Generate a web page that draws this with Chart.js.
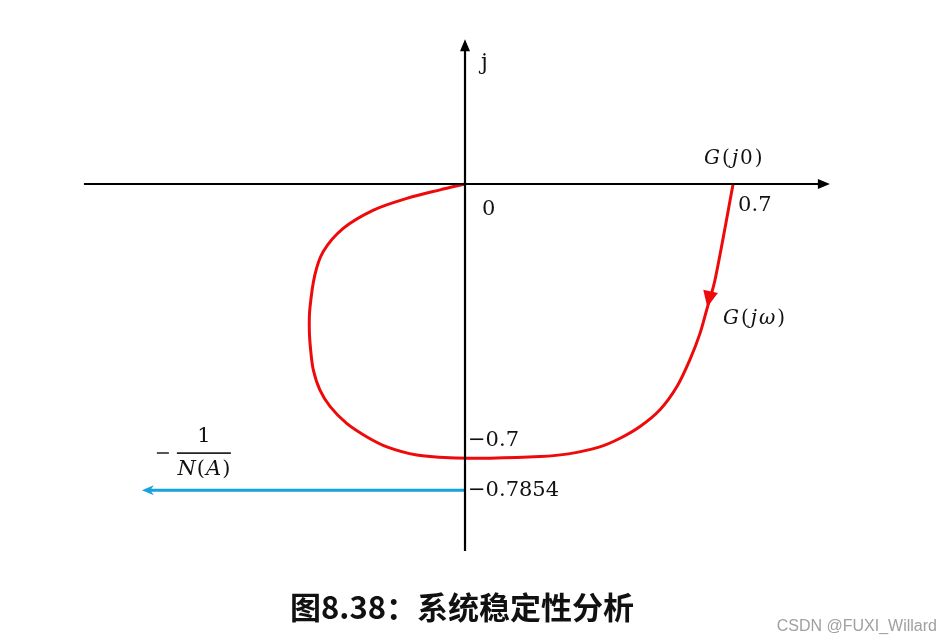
<!DOCTYPE html>
<html lang="zh">
<head>
    <meta charset="UTF-8">
    <title>系统稳定性分析</title>
    <script src="https://cdn.jsdelivr.net/npm/chart.js"></script>
    <style>
        body {
            margin: 0;
            background: #fff;
        }
        #wrap {
            position: relative;
            width: 952px;
            height: 644px;
            overflow: hidden;
        }
        #caption {
            position: absolute;
            left: 0;
            width: 924px;
            top: 586px;
            text-align: center;
            font-family: "Noto Sans CJK SC", sans-serif;
            font-weight: bold;
            font-size: 31px;
            line-height: 40px;
            color: #111;
        }
        #mark {
            position: absolute;
            right: 15px;
            top: 617px;
            font-family: "Liberation Sans", Arial, sans-serif;
            font-size: 16px;
            color: #a0a0a0;
        }
    </style>
</head>
<body>
<div id="wrap">
    <canvas id="chart" width="952" height="644"></canvas>
    <div id="caption">图8.38：系统稳定性分析</div>
    <div id="mark">CSDN @FUXI_Willard</div>
</div>
<script>
    const curveRe = [0.700, 0.6527, 0.631, 0.6136, 0.587, 0.553, 0.509, 0.457, 0.405, 0.352, 0.270,
        0.196, 0.065, -0.040, -0.126, -0.204, -0.257, -0.309, -0.352, -0.379, -0.396, -0.403,
        -0.4065, -0.405, -0.392, -0.370, -0.318, -0.239, -0.152, -0.065, 0.000];
    const curveIm = [0.000, -0.246, -0.323, -0.383, -0.451, -0.520, -0.579, -0.622, -0.652, -0.674, -0.692,
        -0.699, -0.703, -0.702, -0.695, -0.674, -0.648, -0.614, -0.571, -0.528, -0.477, -0.426,
        -0.374, -0.319, -0.233, -0.173, -0.114, -0.067, -0.037, -0.015, 0.000];

    // -1/N(A) line
    const nLevel = -0.7854;
    const nRe = [0, -0.828];

    // axes extents
    const reAxis = [-0.995, 0.937];
    const imAxis = [-0.941, 0.356];

    // tick values marked on the axes
    const reTicks = [0, 0.7];
    const imTicks = [-0.7, -0.7854];
    const reTickText = ['0', '0.7'];
    const imTickText = ['\u22120.7', '\u22120.7854'];

    const red = '#ee0a0a';
    const blue = '#17a2dc';

    function pts(xs, ys) {
        return xs.map((x, i) => ({ x: x, y: ys[i] }));
    }

    const serif = '"DejaVu Serif", "Liberation Serif", serif';

    function runs(ctx, parts, x, y, size, gap) {
        parts.forEach(p => {
            ctx.font = (p.i ? 'italic ' : '') + size + 'px ' + serif;
            ctx.fillText(p.t, x, y);
            x += ctx.measureText(p.t).width + (gap || 0);
        });
    }

    // filled arrowhead pointing from -> to, tip shifted along the direction
    function arrow(ctx, from, to, len, half, color, notch, shift) {
        const dx = to.x - from.x, dy = to.y - from.y;
        const d = Math.hypot(dx, dy);
        const ux = dx / d, uy = dy / d;
        const s = shift === undefined ? len * 0.5 : shift;
        const tip = { x: to.x + ux * s, y: to.y + uy * s };
        const bx = tip.x - ux * len, by = tip.y - uy * len;
        ctx.save();
        ctx.fillStyle = color;
        ctx.beginPath();
        ctx.moveTo(tip.x, tip.y);
        ctx.lineTo(bx - uy * half, by + ux * half);
        if (notch) ctx.lineTo(tip.x - ux * len * 0.7, tip.y - uy * len * 0.7);
        ctx.lineTo(bx + uy * half, by - ux * half);
        ctx.closePath();
        ctx.fill();
        ctx.restore();
    }

    const decor = {
        id: 'decor',
        afterDatasetsDraw(chart) {
            const ctx = chart.ctx;
            const sx = chart.scales.x, sy = chart.scales.y;
            const P = (x, y) => ({ x: sx.getPixelForValue(x), y: sy.getPixelForValue(y) });

            // arrowheads
            arrow(ctx, P(reAxis[0], 0), P(reAxis[1], 0), 12, 5, '#000');
            arrow(ctx, P(0, imAxis[0]), P(0, imAxis[1]), 12, 5, '#000');
            arrow(ctx, P(nRe[0], nLevel), P(nRe[1], nLevel), 12, 5, blue, true);
            arrow(ctx, P(curveRe[0], curveIm[0]), P(curveRe[2], curveIm[2]), 16, 7.5, red, false, -3);

            ctx.save();
            ctx.fillStyle = '#111';
            ctx.textBaseline = 'middle';
            ctx.textAlign = 'left';

            // axis name
            let p = P(0, imAxis[1]);
            runs(ctx, [{ t: 'j' }], p.x + 16, p.y + 18, 22);

            // real-axis ticks
            p = P(reTicks[0], 0);
            runs(ctx, [{ t: reTickText[0] }], p.x + 17, p.y + 26, 21);
            p = P(reTicks[1], 0);
            runs(ctx, [{ t: reTickText[1] }], p.x + 5, p.y + 22, 21);

            // imaginary-axis ticks
            imTicks.forEach((v, i) => {
                const q = P(0, v);
                runs(ctx, [{ t: imTickText[i] }], q.x + 3, q.y + (i === 0 ? -16 : 0), 21);
            });

            // G(j0)
            p = P(curveRe[0], curveIm[0]);
            runs(ctx, [{ t: 'G', i: 1 }, { t: '(' }, { t: 'j', i: 1 }, { t: '0' }, { t: ')' }], p.x - 29, p.y - 25, 20, 2);

            // G(jw)
            p = P(curveRe[3], curveIm[3]);
            runs(ctx, [{ t: 'G', i: 1 }, { t: '(' }, { t: 'j', i: 1 }, { t: '\u03c9', i: 1 }, { t: ')' }], p.x + 23, p.y - 15, 20, 2);

            // -1/N(A)
            p = P(nRe[1], nLevel);
            const cx = p.x + 56, by = p.y - 37;
            ctx.fillRect(cx - 27, by - 1, 54, 1.6);
            ctx.fillRect(p.x + 9, by - 1, 12, 1.4);
            ctx.textAlign = 'center';
            ctx.font = '21px ' + serif;
            ctx.fillText('1', cx, by - 17);
            ctx.textAlign = 'left';
            const w = ['N', '(', 'A', ')'].reduce((s, t, k) => {
                ctx.font = (k % 2 === 0 ? 'italic ' : '') + '21px ' + serif;
                return s + ctx.measureText(t).width + 1;
            }, -1);
            runs(ctx, [{ t: 'N', i: 1 }, { t: '(' }, { t: 'A', i: 1 }, { t: ')' }], cx - w / 2, by + 16, 21, 1);
            ctx.restore();
        }
    };

    new Chart(document.getElementById('chart'), {
        type: 'scatter',
        data: {
            datasets: [
                {
                    data: pts(reAxis, [0, 0]),
                    showLine: true, borderColor: '#000', borderWidth: 2.2, pointRadius: 0
                },
                {
                    data: pts([0, 0], imAxis),
                    showLine: true, borderColor: '#000', borderWidth: 2.2, pointRadius: 0
                },
                {
                    data: pts(nRe, [nLevel, nLevel]),
                    showLine: true, borderColor: blue, borderWidth: 3, pointRadius: 0
                },
                {
                    data: pts(curveRe, curveIm),
                    showLine: true, borderColor: red, borderWidth: 3, pointRadius: 0,
                    tension: 0.3
                }
            ]
        },
        options: {
            responsive: false,
            animation: false,
            layout: { padding: 0 },
            plugins: { legend: { display: false }, tooltip: { enabled: false } },
            scales: {
                x: { type: 'linear', min: -1.2141, max: 1.2715, display: false },
                y: { type: 'linear', min: -1.1795, max: 0.4718, display: false }
            }
        },
        plugins: [decor]
    });
</script>
</body>
</html>
